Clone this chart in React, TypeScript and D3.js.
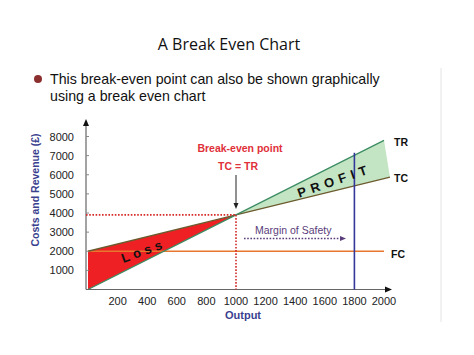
import React from "react";
import * as d3 from "d3";

const outputTicks = [200, 400, 600, 800, 1000, 1200, 1400, 1600, 1800, 2000];
const valueTicks = [1000, 2000, 3000, 4000, 5000, 6000, 7000, 8000];
const outputs = [0, 1000, 2000];
const totalRevenue = [0, 3900, 7800];
const totalCost = [2000, 3900, 5800];
const fixedCost = [2000, 2000, 2000];
const breakEvenOutput = 1000;
const breakEvenValue = 3900;
const actualOutput = 1800;
const actualTop = 7150;

const W = 474;
const H = 355;

export default function App() {
  const x = d3.scaleLinear().domain([0, 2000]).range([88, 384]);
  const y = d3.scaleLinear().domain([0, 8000]).range([289.5, 136.5]);

  const line = d3
    .line<[number, number]>()
    .x((d) => x(d[0]))
    .y((d) => y(d[1]));

  const tr: [number, number][] = outputs.map((o, i) => [o, totalRevenue[i]]);
  const tc: [number, number][] = outputs.map((o, i) => [o, totalCost[i]]);
  const fc: [number, number][] = outputs.map((o, i) => [o, fixedCost[i]]);

  const lossPoly: [number, number][] = [
    [0, totalCost[0]],
    [breakEvenOutput, breakEvenValue],
    [0, totalRevenue[0]],
  ];
  const profitPoly: [number, number][] = [
    [breakEvenOutput, breakEvenValue],
    [2000, totalRevenue[2]],
    [2040, totalCost[2] + 1.9 * 40],
    [breakEvenOutput, breakEvenValue],
  ];
  const tcExt: [number, number][] = [...tc, [2040, totalCost[2] + 1.9 * 40]];

  const x0 = x(0) - 2;
  const y0 = y(0);
  const bx = x(breakEvenOutput);
  const by = y(breakEvenValue);

  return (
    <svg width={W} height={H} style={{ display: "block", position: "absolute", left: 0, top: 0 }}>
      <rect width={W} height={H} fill="#fff" />
      <text x={229} y={50} textAnchor="middle" fontFamily="'Open Sans', sans-serif" fontSize={16} fill="#111">
        A Break Even Chart
      </text>
      <circle cx={38} cy={79} r={4} fill="#8b2e2e" />
      <text x={50} y={84} fontFamily="'Liberation Sans', Arial, sans-serif" fontSize={14.2} fill="#111">
        This break-even point can also be shown graphically
      </text>
      <text x={50} y={101} fontFamily="'Liberation Sans', Arial, sans-serif" fontSize={14.2} fill="#111">
        using a break even chart
      </text>
      <line x1={441} x2={441} y1={68} y2={322} stroke="#e4e4e4" strokeWidth={1} />

      {/* areas */}
      <path d={line(lossPoly)! + "Z"} fill="#ee2024" />
      <path d={line(profitPoly)! + "Z"} fill="#c4e5c4" />

      {/* lines */}
      <path d={line(fc)!} stroke="#e8772e" strokeWidth={1.5} fill="none" />
      <path d={line(tcExt)!} stroke="#6b5b2e" strokeWidth={1.3} fill="none" />
      <path d={line(tr)!} stroke="#3c8c63" strokeWidth={1.3} fill="none" />

      {/* axes */}
      <line x1={x0} x2={x0} y1={y0} y2={124} stroke="#666" strokeWidth={1.2} />
      <path d={`M${x0 - 3},${126} L${x0},${119} L${x0 + 3},${126} Z`} fill="#111" />
      <line x1={x0} x2={386} y1={y0} y2={y0} stroke="#666" strokeWidth={1.2} />
      <path d={`M${385},${y0 - 3} L${392},${y0} L${385},${y0 + 3} Z`} fill="#111" />
      {valueTicks.map((v) => (
        <g key={v}>
          <line x1={x0} x2={x0 + 3} y1={y(v)} y2={y(v)} stroke="#888" />
          <text
            x={74}
            y={y(v) + 4}
            textAnchor="end"
            fontFamily="'Liberation Sans', Arial, sans-serif"
            fontSize={11}
            fill="#222"
          >
            {v}
          </text>
        </g>
      ))}
      {outputTicks.map((v) => (
        <text
          key={v}
          x={x(v)}
          y={305}
          textAnchor="middle"
          fontFamily="'Liberation Sans', Arial, sans-serif"
          fontSize={11}
          fill="#222"
        >
          {v}
        </text>
      ))}
      <text
        x={243}
        y={319}
        textAnchor="middle"
        fontFamily="'Liberation Sans', Arial, sans-serif"
        fontSize={11}
        fontWeight="bold"
        fill="#3a3f8f"
      >
        Output
      </text>
      <text
        transform={`translate(39,190) rotate(-90)`}
        textAnchor="middle"
        fontFamily="'Liberation Sans', Arial, sans-serif"
        fontSize={10.5}
        fontWeight="bold"
        fill="#3a3f8f"
      >
        Costs and Revenue (£)
      </text>

      {/* break-even guides */}
      <line x1={x0} x2={bx} y1={by} y2={by} stroke="#d42a2a" strokeWidth={1.6} strokeDasharray="1.6 1.6" />
      <line x1={bx} x2={bx} y1={by} y2={y0} stroke="#d42a2a" strokeWidth={1.6} strokeDasharray="1.6 1.6" />

      {/* actual output */}
      <line x1={x(actualOutput)} x2={x(actualOutput)} y1={y0} y2={y(actualTop)} stroke="#33379a" strokeWidth={1.6} />

      {/* annotations */}
      <text x={240} y={152} textAnchor="middle" fontFamily="'Liberation Sans', Arial, sans-serif" fontSize={10.5} fontWeight="bold" fill="#e0303a">
        Break-even point
      </text>
      <text x={238} y={170} textAnchor="middle" fontFamily="'Liberation Sans', Arial, sans-serif" fontSize={10.5} fontWeight="bold" fill="#e0303a">
        TC = TR
      </text>
      <line x1={bx} x2={bx} y1={175} y2={205} stroke="#222" strokeWidth={1} />
      <path d={`M${bx - 2.5},${203} L${bx},${209} L${bx + 2.5},${203} Z`} fill="#222" />

      <text x={255} y={234} fontFamily="'Liberation Sans', Arial, sans-serif" fontSize={10.5} fill="#5a3d7a">
        Margin of Safety
      </text>
      <line x1={244} x2={341} y1={238.5} y2={238.5} stroke="#5a3d7a" strokeWidth={1.6} strokeDasharray="1.6 1.6" />
      <path d={`M${340},${236} L${346},${238.5} L${340},${241} Z`} fill="#5a3d7a" />

      <text
        transform={`translate(336,185) rotate(-19)`}
        textAnchor="middle"
        fontFamily="'Liberation Sans', Arial, sans-serif"
        fontSize={13}
        fontWeight="bold"
        letterSpacing={5}
        fill="#111"
      >
        PROFIT
      </text>
      <text
        transform={`translate(145,255) rotate(-20)`}
        textAnchor="middle"
        fontFamily="'Liberation Sans', Arial, sans-serif"
        fontSize={13}
        fontWeight="bold"
        letterSpacing={4}
        fill="#111"
      >
        Loss
      </text>

      <text x={394} y={146} fontFamily="'Liberation Sans', Arial, sans-serif" fontSize={10.5} fontWeight="bold" fill="#111">
        TR
      </text>
      <text x={394} y={182} fontFamily="'Liberation Sans', Arial, sans-serif" fontSize={10.5} fontWeight="bold" fill="#111">
        TC
      </text>
      <text x={391} y={258} fontFamily="'Liberation Sans', Arial, sans-serif" fontSize={10.5} fontWeight="bold" fill="#111">
        FC
      </text>
    </svg>
  );
}
